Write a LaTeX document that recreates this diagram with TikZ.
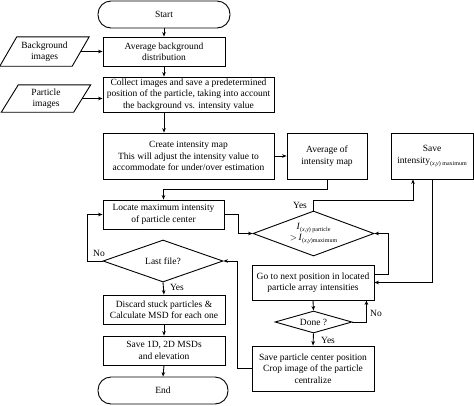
\documentclass[tikz,border=0pt]{standalone}
\usepackage{fontspec}
\setmainfont{Liberation Serif}
\usetikzlibrary{shapes.geometric,arrows.meta,calc}
\newcommand\subsc[1]{\raisebox{-0.45ex}{\fontsize{6}{6}\selectfont #1}}
\begin{document}
\begin{tikzpicture}[x=1pt,y=-1pt,
  txt/.style={font=\fontsize{9.5}{11.5}\selectfont},
  box/.style={txt, draw, rectangle, line width=0.9pt, inner sep=1pt, align=center},
  term/.style={box, rounded corners=13pt},
  dia/.style={txt, draw, diamond, line width=0.9pt, inner sep=0pt, align=center},
  io/.style={txt, rectangle, inner sep=0pt, align=center},
  arr/.style={-{Stealth[length=4.5pt,width=3.6pt]}, line width=0.9pt},
  ln/.style={line width=0.9pt},
  lbl/.style={txt, inner sep=0pt}]
\useasboundingbox (0,0) rectangle (474,405);

% main column
\node[term, minimum width=132pt, minimum height=27pt] (start) at (164,14.5) {Start};
\node[box, minimum width=122pt, minimum height=29pt] (avgbg) at (164,51.5) {Average background\\distribution};
\node[box, minimum width=171pt, minimum height=35pt] (collect) at (188.5,94.5) {Collect images and save a predetermined\\position of the particle, taking into account\\the background vs. intensity value};
\node[box, minimum width=171pt, minimum height=46pt] (create) at (188.5,156) {Create intensity map\\This will adjust the intensity value to\\accommodate for under/over estimation};
\node[box, minimum width=80pt, minimum height=46pt] (avgmap) at (327,156) {Average of\\intensity map};
\node[box, minimum width=82pt, minimum height=46pt] (saveint) at (432,156) {Save\\intensity\subsc{(\textit{x,y}) maximum}};
\node[box, minimum width=121pt, minimum height=29pt] (locate) at (163.5,214.5) {Locate maximum intensity\\of particle center};
\node[dia, shape aspect=2.7, minimum width=121pt, minimum height=45pt] (cmp) at (313.5,233.5) {\textit{I}\subsc{(\textit{x,y}) particle}\\${>}$\,\textit{I}\subsc{(\textit{x,y})maximum}};
\node[dia, shape aspect=2.85, minimum width=120pt, minimum height=42pt] (lastfile) at (163,261) {Last file?};
\node[box, minimum width=122pt, minimum height=29pt] (discard) at (164,309.5) {Discard stuck particles \&\\Calculate MSD for each one};
\node[box, minimum width=122pt, minimum height=29pt] (save1d) at (164,350.5) {Save 1D, 2D MSDs\\and elevation};
\node[term, minimum width=130pt, minimum height=27pt] (end) at (163,390.5) {End};
\node[box, minimum width=122pt, minimum height=35pt] (goto) at (313,282.5) {Go to next position in located\\particle array intensities};
\node[dia, shape aspect=3.5, minimum width=77pt, minimum height=22pt] (done) at (313.5,322) {Done ?};
\node[box, minimum width=122pt, minimum height=45pt] (savepc) at (313,368.5) {Save particle center position\\Crop image of the particle\\centralize};

% inputs (parallelograms)
\node[io, minimum width=72pt, minimum height=29pt] (bgimg) at (44.5,51.5) {Background\\images};
\draw[ln] ([xshift=-8.5pt]bgimg.south west) -- ([xshift=8.5pt]bgimg.north west) -- ([xshift=8.5pt]bgimg.north east) -- ([xshift=-8.5pt]bgimg.south east) -- cycle;
\node[io, minimum width=72pt, minimum height=27pt] (ptimg) at (46,98.5) {Particle\\images};
\draw[ln] ([xshift=-8.5pt]ptimg.south west) -- ([xshift=8.5pt]ptimg.north west) -- ([xshift=8.5pt]ptimg.north east) -- ([xshift=-8.5pt]ptimg.south east) -- cycle;

% connectors
\draw[arr] (start.south) -- (avgbg.north);
\draw[arr] (bgimg.east) -- (bgimg.east -| avgbg.west);
\draw[arr] (avgbg.south) -- (avgbg.south |- collect.north);
\draw[arr] (ptimg.east) -- (ptimg.east -| collect.west);
\draw[arr] (start.south |- collect.south) -- (start.south |- create.north);
\draw[arr] (create.east) -- (avgmap.west);
\draw[arr] (avgmap.south) -- ++(0,10) -| (locate.north);
\draw[arr] (locate.east) -- ++(14,0) |- (cmp.west);
\draw[arr] (cmp.north) -- ++(0,-10) -| ([xshift=-19pt]saveint.south);
\draw[arr] (saveint.south) |- (goto.east);
\draw[arr] ([yshift=8.5pt]goto.east) -- ++(14,0) |- (cmp.east);
\draw[arr] (goto.south) -- (done.north);
\draw[arr] (done.east) -| ([xshift=-8pt]goto.south east);
\draw[arr] (done.south) -- (savepc.north);
\draw[arr] (savepc.west) -- ++(-14,0) |- (lastfile.east);
\draw[arr] (lastfile.west) -- ++(-15,0) |- (locate.west);
\draw[arr] (lastfile.south) -- (discard.north);
\draw[arr] (discard.south) -- (save1d.north);
\draw[arr] (save1d.south) -- (end.north);

% labels
\node[lbl] (ycmp) at (300,205) {Yes};
\node[lbl] (nlast) at (99,253) {No};
\node[lbl] (ylast) at (177,287) {Yes};
\node[lbl] (ndone) at (376,313) {No};
\node[lbl] (ydone) at (328,340) {Yes};
\end{tikzpicture}
\end{document}
